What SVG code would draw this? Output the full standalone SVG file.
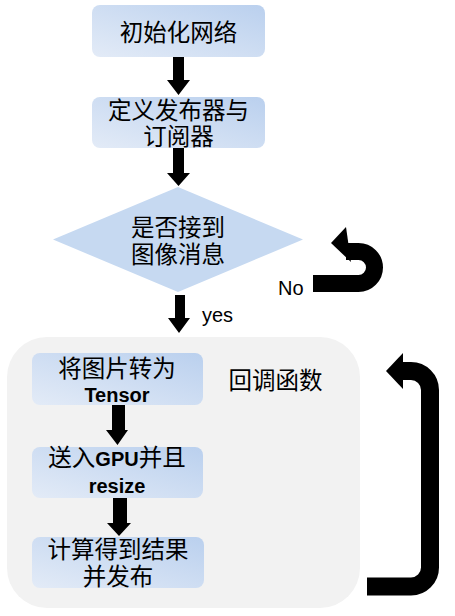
<svg xmlns="http://www.w3.org/2000/svg" width="455" height="616" viewBox="0 0 455 616">
<defs>
<linearGradient id="bx" x1="0" y1="1" x2="1" y2="0">
<stop offset="0" stop-color="#e3ebf7"/>
<stop offset="1" stop-color="#bad0ee"/>
</linearGradient>
</defs>
<style>
.box{fill:url(#bx);}
.cjk{font-family:"Liberation Sans","Noto Sans CJK SC",sans-serif;font-size:23.5px;fill:#000;text-anchor:middle;}
.lat{font-family:"Liberation Sans",Arial,sans-serif;font-size:20px;font-weight:bold;}
.lbl{font-family:"Liberation Sans",Arial,sans-serif;font-size:20px;fill:#000;}
.ar{fill:#000;}
.bend{fill:none;stroke:#000;}
</style>
<rect id="callback-bg" x="7" y="337" width="353" height="271" rx="40" fill="#f2f2f2"/>
<g id="init">
<rect class="box" x="92" y="5" width="173" height="52" rx="8"/>
<text class="cjk" x="178.5" y="40.5">初始化网络</text>
</g>
<g id="define">
<rect class="box" x="92" y="97" width="173" height="51" rx="8"/>
<text class="cjk" x="178.5" y="118.6">定义发布器与</text>
<text class="cjk" x="178.5" y="145.2">订阅器</text>
</g>
<g id="decision">
<polygon points="178,187 303,239.5 178,292 53,239.5" fill="#c6d9f1"/>
<text class="cjk" x="178" y="235.9">是否接到</text>
<text class="cjk" x="178" y="262.5">图像消息</text>
</g>
<g id="callback-label">
<text class="cjk" x="275.5" y="389">回调函数</text>
</g>
<g id="tensor">
<rect class="box" x="32" y="353" width="171" height="52" rx="8"/>
<text class="cjk" x="117" y="376.5">将图片转为</text>
<text class="cjk lat" x="117" y="402">Tensor</text>
</g>
<g id="gpu">
<rect class="box" x="32" y="447" width="171" height="51" rx="8"/>
<text class="cjk" x="117" y="466">送入<tspan class="lat">GPU</tspan>并且</text>
<text class="cjk lat" x="117" y="493">resize</text>
</g>
<g id="result">
<rect class="box" x="32" y="537" width="172" height="51" rx="8"/>
<text class="cjk" x="118" y="558.2">计算得到结果</text>
<text class="cjk" x="118" y="584.8">并发布</text>
</g>
<g id="connectors">
<polygon class="ar" points="173,57 184,57 184,80 190,80 178.5,95 167,80 173,80"/>
<polygon class="ar" points="173,148 184,148 184,173 190,173 178.5,186 167,173 173,173"/>
<polygon class="ar" points="175,295 185,295 185,318 190,318 179,333 168,318 175,318"/>
<text class="lbl" x="202" y="322">yes</text>
<polygon class="ar" points="112,405 125,405 125,430 128,430 117.5,445 106,430 112,430"/>
<polygon class="ar" points="113,498 127,498 127,523 131,523 119,536 107,523 113,523"/>
<text class="lbl" x="278" y="295">No</text>
<path class="bend" stroke-width="17" d="M313 283.5 H358.5 A16 16 0 0 0 358.5 251.5 H346"/>
<polygon class="ar" points="331,243 346,227 351,262"/>
<path class="bend" stroke-width="18" d="M367 586.5 H411 A19 19 0 0 0 430 567.5 V390 A19 19 0 0 0 411 371 H401"/>
<polygon class="ar" points="386,371 403,353 403,389"/>
</g>
</svg>
